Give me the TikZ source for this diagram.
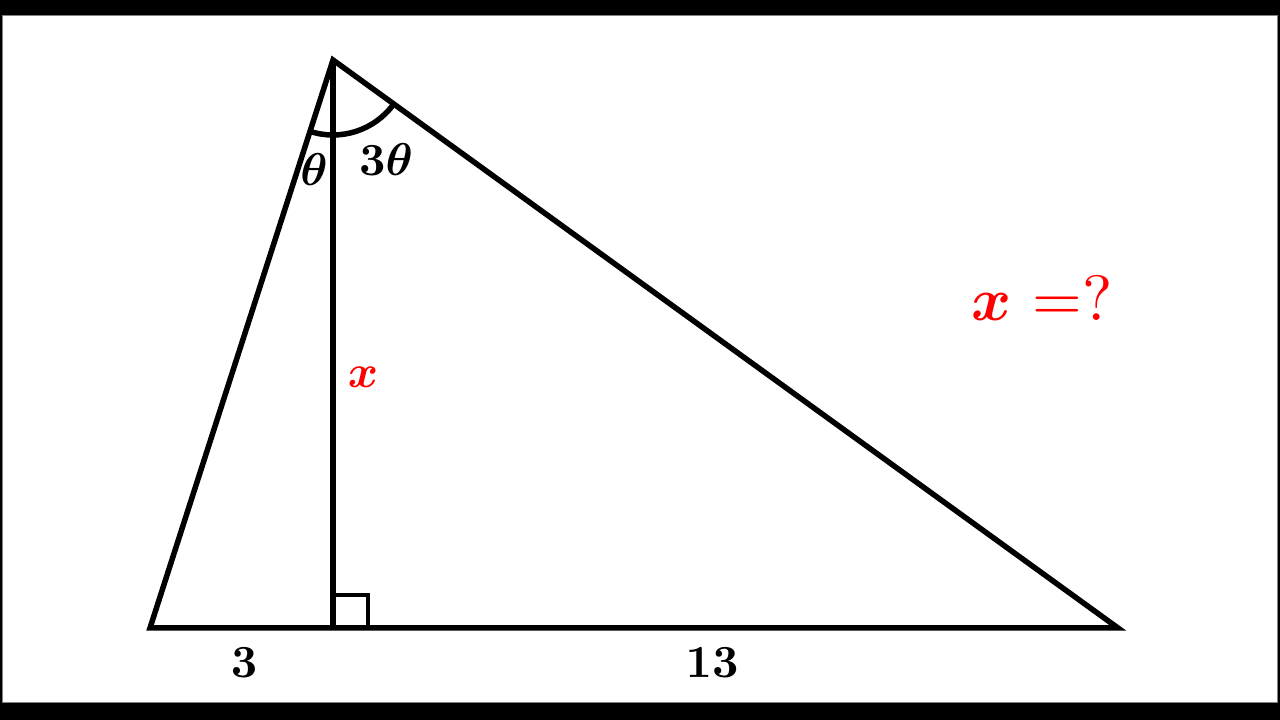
\documentclass[tikz,border=0pt]{standalone}
\usepackage{amsmath}
\usepackage{amssymb}
\usepackage{bm}
\usepackage{graphicx}
\usepackage{tikz}
\usetikzlibrary{
		calc,
		positioning
	}
\tikzset{
		>=stealth,
		side/.style={line width=5.5pt},
		lbl/.style={inner sep=0pt},
		redlbl/.style={lbl, text=red}
	}
\newcommand{\biglbl}[1]{\scalebox{4.6}{\boldmath #1}}

\begin{document}
\begin{tikzpicture}[x=1pt, y=1pt]
    % the frame
    \fill[black] (0,0) rectangle (1280,720);
    \filldraw[fill=white, draw=gray, line width=1pt] (2.5,17) rectangle (1277.5,704);
    \useasboundingbox (0,0) rectangle (1280,720);

    % the corners of the triangle and the foot of the height
    \coordinate (A) at (150,92);
    \coordinate (B) at (333,660);
    \coordinate (C) at (1118,92);
    \coordinate (D) at (333,92);

    % draw the triangle and the height
    \draw[side] (A) -- (B) -- (C) -- cycle;
    \draw[side] (B) -- (D);

    % the right angle and the angle arc
    \draw[line width=4.5pt] (D) ++(0,33) -- ++(35,0) -- ++(0,-33);
    \draw[side] (B) ++(252.14:75) arc[start angle=252.14, end angle=324.1, radius=75];

    % the texts
    \node[lbl] (t1) at (314,550) {\biglbl{$\theta$}};
    \node[lbl] (t3) at (386,560) {\biglbl{$3\theta$}};
    \node[redlbl] (h) at (363,343) {\biglbl{$x$}};
    \node[lbl] (a) at (244,57) {\biglbl{$3$}};
    \node[lbl] (c) at (712,57) {\biglbl{$13$}};
    \node[redlbl] (q) at (1042,422)
        {\scalebox{6.4}{\scalebox{0.95}{$\bm{x}$} $=$?}};
\end{tikzpicture}
\end{document}
